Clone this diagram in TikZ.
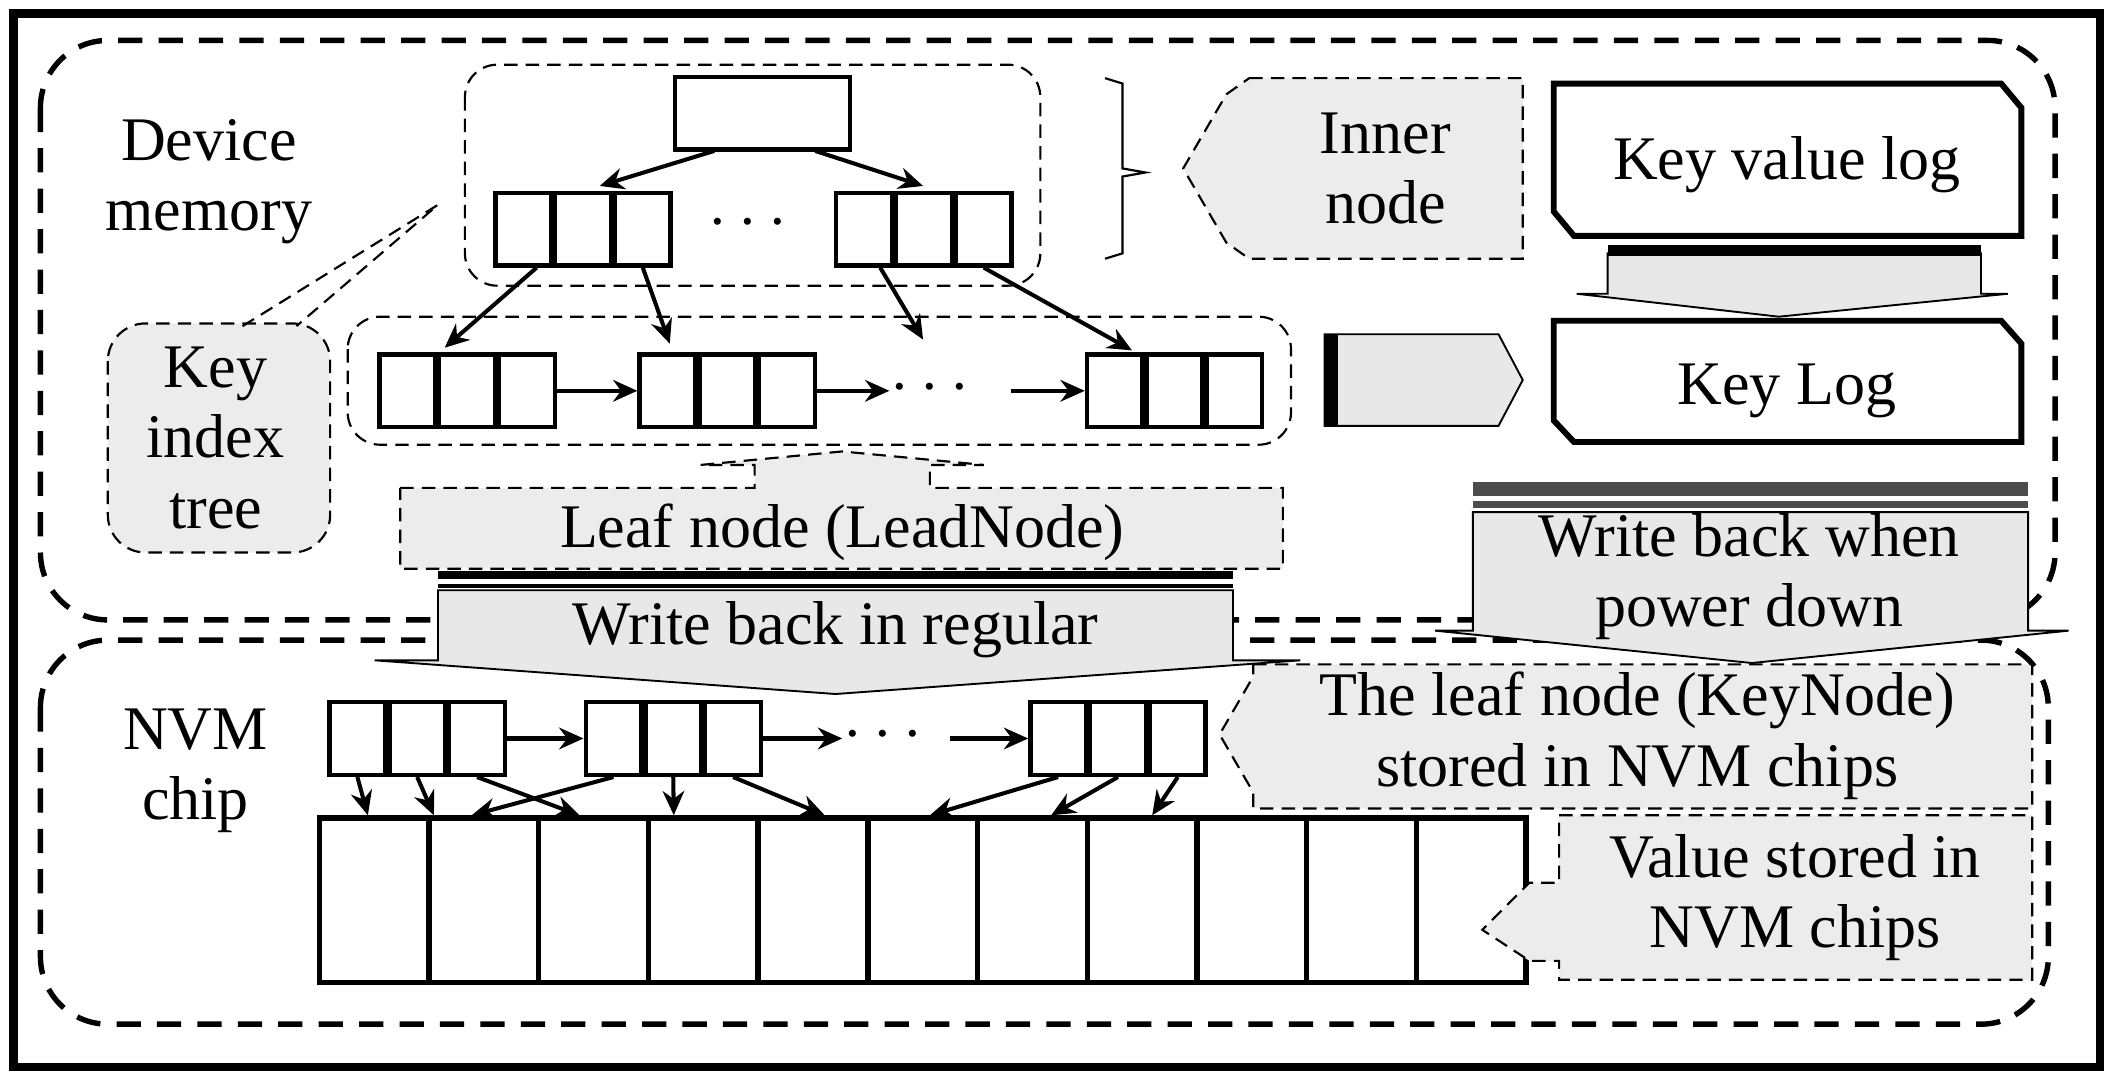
\documentclass[tikz,border=0pt]{standalone}
\usepackage{fontspec}
\setmainfont{Liberation Serif}
\usetikzlibrary{arrows.meta}
\begin{document}
\begin{tikzpicture}[x=0.5pt,y=-0.5pt,
  big/.style={font=\fontsize{23}{26}\selectfont, align=center},
  cell/.style={draw, line width=1.6pt, minimum width=20.6pt, minimum height=27pt, inner sep=0},
  arr/.style={-{Stealth[length=9pt,width=8pt]}, line width=1.5pt},
  grp/.style={draw, dash pattern=on 5pt off 3pt, line width=0.8pt, rounded corners=12pt},
  call/.style={draw, dash pattern=on 5pt off 3pt, line width=0.8pt, fill=gray!15},
  region/.style={draw, dash pattern=on 9pt off 6pt, line width=2pt, rounded corners=25pt},
  logbox/.style={draw, line width=2.2pt, fill=white},
  garrow/.style={draw, line width=0.7pt, fill=gray!18}]
\useasboundingbox (0,0) rectangle (1568,804);
\draw[line width=3pt] (10,10) rectangle (1558,792);
% regions
\draw[region] (30,30) rectangle (1525,460);
\draw[region] (30,475) rectangle (1520,760);
\node[big] (dm) at (155,135) {Device\\memory};
\node[big] (nvm) at (145,572) {NVM\\chip};
% inner group
\draw[grp] (345,48) rectangle (772,212);
\node[draw, line width=1.6pt, minimum width=65pt, minimum height=27pt] (root) at (566,84) {};
\foreach \n/\x/\y in {i1/366/170, i2/619/170, l1/280/290, l2/473/290, l3/805/290, n1/243/548, n2/433/548, n3/763/548}{
  \node[cell, anchor=west] (\n a) at (\x,\y) {};
  \node[cell, anchor=west] (\n b) at (\n a.east) {};
  \node[cell, anchor=west] (\n c) at (\n b.east) {};
}
\node[big] (d1) at (555,166) {$\cdots$};
\draw[grp] (258,235) rectangle (958,330);
\node[big] (d2) at (690,288) {$\cdots$};
\node[big] (d3) at (655,546) {$\cdots$};
\coordinate (ia) at (445,138); \coordinate (ib) at (685,138);
\draw[arr] (530,112) -- (ia);
\draw[arr] (605,112) -- (ib);
\draw[arr] (i1a.south) ++(10,0) -- (330,258);
\draw[arr] (i1c.south) -- (497,255);
\draw[arr] (i2a.south) ++(12,0) -- (685,252);
\draw[arr] (i2c.south) -- (840,260);
\draw[arr] (l1c.east) -- (l2a.west);
\draw[arr] (l2c.east) -- (660,290);
\draw[arr] (750,290) -- (l3a.west);
\draw[arr] (n1c.east) -- (n2a.west);
\draw[arr] (n2c.east) -- (625,548);
\draw[arr] (705,548) -- (n3a.west);
% value row
\foreach \i in {0,...,10}{
  \node[draw, line width=2pt, minimum width=40.7pt, minimum height=61pt, inner sep=0, anchor=north west] (v\i) at ({235+\i*81.4},605) {};
}
\draw[arr] (n1a.south) -- (273,605);
\draw[arr] (n1b.south) -- (322,605);
\draw[arr] (n1c.south) -- (430,605);
\draw[arr] (n2a.south) -- (350,605);
\draw[arr] (n2b.south) -- (500,605);
\draw[arr] (n2c.south) -- (612,605);
\draw[arr] (n3a.south) -- (690,605);
\draw[arr] (n3b.south) -- (780,605);
\draw[arr] (n3c.south) -- (855,605);
% brace
\draw[line width=0.8pt] (820,58) -- (833,62) -- (833,125) -- (850,128) -- (833,131) -- (833,188) -- (820,192);
% inner node callout
\draw[call] (927,58) -- (1130,58) -- (1130,192) -- (927,192) -- (910,180) -- (878,125) -- (910,70) -- cycle;
\node[big] (in) at (1028,125) {Inner\\node};
% key value log
\draw[logbox] (1153,62) -- (1485,62) -- (1500,80) -- (1500,175) -- (1168,175) -- (1153,157) -- cycle;
\node[big] (kvl) at (1326,122) {Key value log};
\draw[logbox] (1153,238) -- (1485,238) -- (1500,255) -- (1500,328) -- (1168,328) -- (1153,312) -- cycle;
\node[big] (kl) at (1326,290) {Key Log};
\draw[garrow] (1193,188) -- (1470,188) -- (1470,218) -- (1490,218) -- (1320,235) -- (1170,218) -- (1193,218) -- cycle;
\fill (1193,182) rectangle (1470,190);
% small right arrow
\draw[garrow] (983,248) -- (1112,248) -- (1130,282) -- (1112,316) -- (983,316) -- cycle;
\fill (983,248) rectangle (993,316);
% key index tree callout
\draw[call, rounded corners=14pt] (80,240) rectangle (245,410);
\draw[dash pattern=on 5pt off 3pt, line width=0.8pt] (180,242) -- (325,152) -- (220,242);
\node[big] (kit) at (160,325) {Key\\index\\tree};
% leaf node callout
\draw[call] (297,362) -- (560,362) -- (560,345) -- (520,345) -- (625,335) -- (730,345) -- (690,345) -- (690,362) -- (952,362) -- (952,422) -- (297,422) -- cycle;
\node[big] (ln) at (625,395) {Leaf node (LeadNode)};
% write back in regular
\draw[garrow] (325,438) -- (915,438) -- (915,490) -- (965,490) -- (620,515) -- (278,490) -- (325,490) -- cycle;
\fill (325,424) rectangle (915,430);
\fill (325,433) rectangle (915,436);
\node[big] (wr) at (620,467) {Write back in regular};
% write back when power down
\draw[garrow] (1093,380) -- (1505,380) -- (1505,468) -- (1535,468) -- (1300,492) -- (1065,468) -- (1093,468) -- cycle;
\fill[gray!60!black] (1093,358) rectangle (1505,368);
\fill[gray!60!black] (1093,372) rectangle (1505,377);
\node[big] (wp) at (1298,428) {Write back when\\power down};
% keynode callout
\draw[call] (930,493) -- (1508,493) -- (1508,600) -- (930,600) -- (930,588) -- (905,545) -- (930,502) -- cycle;
\node[big] (kn) at (1215,546) {The leaf node (KeyNode)\\stored in NVM chips};
% value callout
\draw[call] (1157,605) -- (1508,605) -- (1508,727) -- (1157,727) -- (1157,713) -- (1135,713) -- (1100,690) -- (1135,655) -- (1157,655) -- cycle;
\node[big] (vs) at (1332,666) {Value stored in\\NVM chips};
\end{tikzpicture}
\end{document}
